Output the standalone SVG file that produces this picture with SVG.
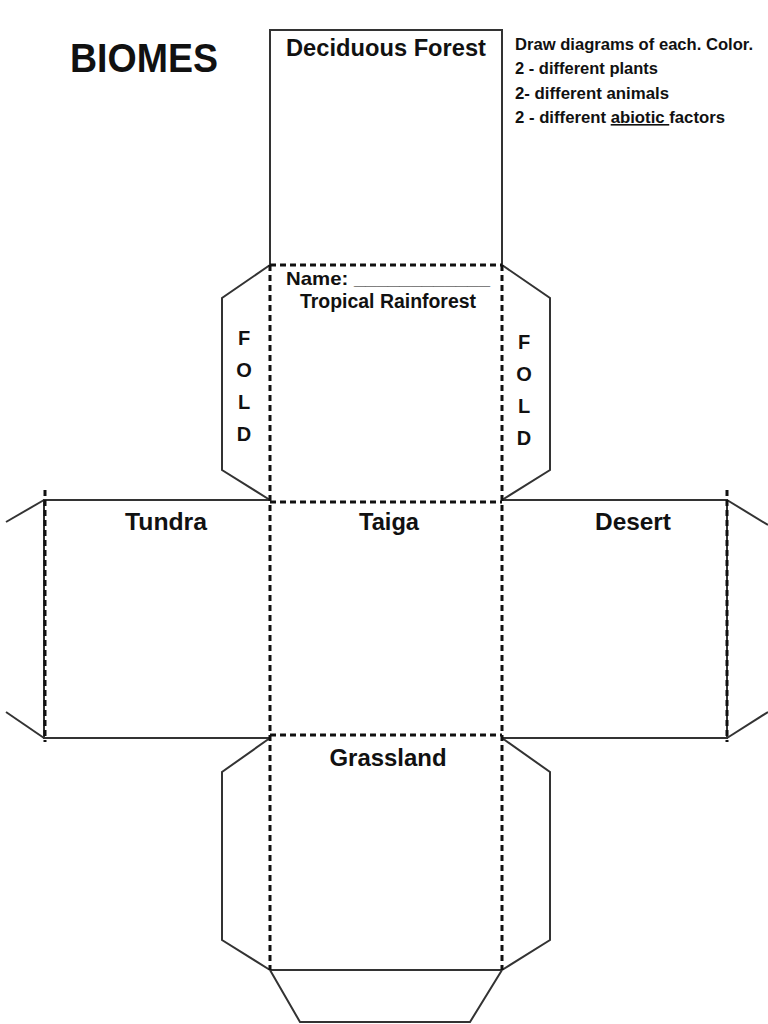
<svg xmlns="http://www.w3.org/2000/svg" width="768" height="1024" viewBox="0 0 768 1024">
<style>
.s{fill:none;stroke:#333;stroke-width:2}
.d{fill:none;stroke:#111;stroke-width:3;stroke-dasharray:6,4}
.t{font-family:"Liberation Sans",Arial,sans-serif;font-weight:bold;fill:#111}
</style>
<rect width="768" height="1024" fill="#fff"/>
<g id="outlines">
<polyline class="s" points="270,265 270,30 502,30 502,265"/>
<polyline class="s" points="270,265 222,298 222,470 270,500"/>
<polyline class="s" points="502,265 550,298 550,470 502,500"/>
<polyline class="s" points="270,500 44,500 44,738 270,738"/>
<polyline class="s" points="502,500 727,500 727,738 502,738"/>
<polyline class="s" points="44,500 6,522"/>
<polyline class="s" points="44,738 6,712"/>
<polyline class="s" points="727,500 768,525"/>
<polyline class="s" points="727,738 768,712"/>
<polyline class="s" points="270,738 222,772 222,940 270,970"/>
<polyline class="s" points="502,738 550,772 550,940 502,970"/>
<polyline class="s" points="270,970 502,970"/>
<polyline class="s" points="270,970 300,1022 470,1022 502,970"/>
</g>
<g id="folds">
<line class="d" x1="270" y1="265" x2="502" y2="265"/>
<line class="d" x1="270" y1="502" x2="502" y2="502"/>
<line class="d" x1="270" y1="735" x2="502" y2="735"/>
<line class="d" x1="270" y1="265" x2="270" y2="970"/>
<line class="d" x1="502" y1="265" x2="502" y2="970"/>
<line class="d" x1="45" y1="490" x2="45" y2="742"/>
<line class="d" x1="727" y1="490" x2="727" y2="742"/>
</g>
<g id="texts">
<text class="t" x="70" y="72" font-size="40" textLength="148" lengthAdjust="spacingAndGlyphs">BIOMES</text>
<text class="t" x="386" y="56" font-size="24" text-anchor="middle" textLength="200" lengthAdjust="spacingAndGlyphs">Deciduous Forest</text>
<text class="t" x="515" y="50" font-size="16" textLength="238" lengthAdjust="spacingAndGlyphs">Draw diagrams of each. Color.</text>
<text class="t" x="515" y="74" font-size="16" textLength="143" lengthAdjust="spacingAndGlyphs">2 - different plants</text>
<text class="t" x="515" y="99" font-size="16" textLength="154" lengthAdjust="spacingAndGlyphs">2- different animals</text>
<text class="t" x="515" y="123" font-size="16" textLength="210" lengthAdjust="spacingAndGlyphs">2 - different <tspan text-decoration="underline">abiotic </tspan>factors</text>
<text class="t" x="286" y="285" font-size="19" textLength="204" lengthAdjust="spacingAndGlyphs">Name: ____________</text>
<text class="t" x="388" y="308" font-size="20" text-anchor="middle" textLength="176" lengthAdjust="spacingAndGlyphs">Tropical Rainforest</text>
<text class="t" x="244" y="345" font-size="20" text-anchor="middle">F</text>
<text class="t" x="244" y="377" font-size="20" text-anchor="middle">O</text>
<text class="t" x="244" y="409" font-size="20" text-anchor="middle">L</text>
<text class="t" x="244" y="441" font-size="20" text-anchor="middle">D</text>
<text class="t" x="524" y="349" font-size="20" text-anchor="middle">F</text>
<text class="t" x="524" y="381" font-size="20" text-anchor="middle">O</text>
<text class="t" x="524" y="413" font-size="20" text-anchor="middle">L</text>
<text class="t" x="524" y="445" font-size="20" text-anchor="middle">D</text>
<text class="t" x="166" y="530" font-size="24" text-anchor="middle" textLength="82" lengthAdjust="spacingAndGlyphs">Tundra</text>
<text class="t" x="389" y="530" font-size="24" text-anchor="middle" textLength="60" lengthAdjust="spacingAndGlyphs">Taiga</text>
<text class="t" x="633" y="530" font-size="24" text-anchor="middle" textLength="76" lengthAdjust="spacingAndGlyphs">Desert</text>
<text class="t" x="388" y="766" font-size="24" text-anchor="middle" textLength="117" lengthAdjust="spacingAndGlyphs">Grassland</text>
</g>
</svg>
